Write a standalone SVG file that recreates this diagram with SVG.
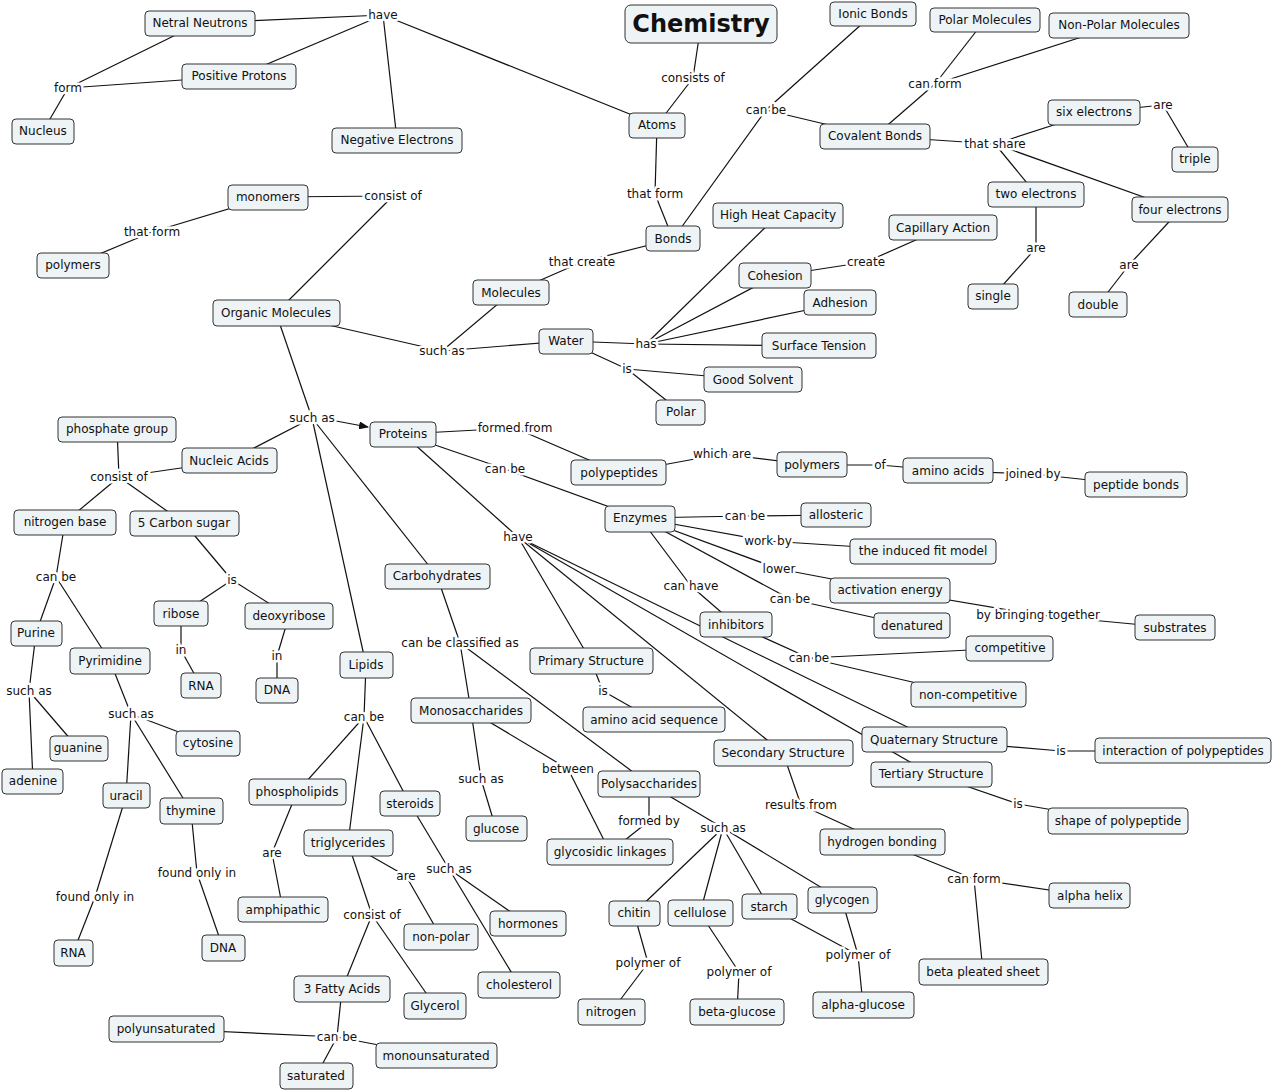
<svg xmlns="http://www.w3.org/2000/svg" width="1274" height="1090" viewBox="0 0 1274 1090">
<style>
.n rect{fill:#eef3f5;stroke:#333;stroke-width:1;}
text{font-family:"DejaVu Sans",Verdana,sans-serif;font-size:12px;fill:#111;text-anchor:middle;dominant-baseline:central;}
.l{stroke:#fff;stroke-width:5;paint-order:stroke;stroke-linejoin:round;}
#c line{stroke:#111;stroke-width:1.2;}
</style>
<defs><marker id="ar" markerWidth="10" markerHeight="8" refX="9" refY="4" orient="auto" markerUnits="userSpaceOnUse"><path d="M0,0L10,4L0,8z" fill="#111"/></marker></defs>
<rect width="1274" height="1090" fill="#fff"/>
<g id="c">
<line x1="200" y1="23" x2="383" y2="15"/><line x1="239" y1="76" x2="383" y2="15"/><line x1="383" y1="15" x2="397" y2="140"/><line x1="383" y1="15" x2="657" y2="125"/>
<line x1="200" y1="23" x2="68" y2="88"/><line x1="239" y1="76" x2="68" y2="88"/><line x1="68" y1="88" x2="43" y2="131"/>
<line x1="701" y1="24" x2="693" y2="78"/><line x1="693" y1="78" x2="657" y2="125"/>
<line x1="657" y1="125" x2="655" y2="194"/><line x1="655" y1="194" x2="673" y2="239"/>
<line x1="673" y1="239" x2="766" y2="110"/><line x1="766" y1="110" x2="873" y2="14"/><line x1="766" y1="110" x2="875" y2="136"/>
<line x1="875" y1="136" x2="935" y2="84"/><line x1="935" y1="84" x2="985" y2="20"/><line x1="935" y1="84" x2="1119" y2="25"/>
<line x1="875" y1="136" x2="995" y2="144"/><line x1="995" y1="144" x2="1094" y2="112"/><line x1="995" y1="144" x2="1036" y2="194"/><line x1="995" y1="144" x2="1180" y2="210"/>
<line x1="1094" y1="112" x2="1163" y2="105"/><line x1="1163" y1="105" x2="1195" y2="159"/>
<line x1="1036" y1="194" x2="1036" y2="248"/><line x1="1036" y1="248" x2="993" y2="296"/>
<line x1="1180" y1="210" x2="1129" y2="265"/><line x1="1129" y1="265" x2="1098" y2="305"/>
<line x1="673" y1="239" x2="582" y2="262"/><line x1="582" y1="262" x2="511" y2="293"/>
<line x1="511" y1="293" x2="442" y2="351"/><line x1="276" y1="313" x2="442" y2="351"/><line x1="442" y1="351" x2="566" y2="341"/>
<line x1="276" y1="313" x2="393" y2="196"/><line x1="393" y1="196" x2="268" y2="197"/><line x1="268" y1="197" x2="152" y2="232"/><line x1="152" y1="232" x2="73" y2="265"/>
<line x1="566" y1="341" x2="646" y2="344"/><line x1="646" y1="344" x2="778" y2="215"/><line x1="646" y1="344" x2="775" y2="276"/><line x1="646" y1="344" x2="840" y2="303"/><line x1="646" y1="344" x2="819" y2="346"/>
<line x1="775" y1="276" x2="866" y2="262"/><line x1="866" y1="262" x2="943" y2="228"/>
<line x1="566" y1="341" x2="627" y2="369"/><line x1="627" y1="369" x2="753" y2="380"/><line x1="627" y1="369" x2="681" y2="412"/>
<line x1="276" y1="313" x2="312" y2="418"/><line x1="336" y1="421" x2="368" y2="427" marker-end="url(#ar)"/><line x1="312" y1="418" x2="229" y2="461"/><line x1="312" y1="418" x2="437" y2="576"/><line x1="312" y1="418" x2="366" y2="665"/>
<line x1="403" y1="434" x2="515" y2="428"/><line x1="515" y1="428" x2="619" y2="473"/><line x1="619" y1="473" x2="722" y2="454"/><line x1="722" y1="454" x2="812" y2="465"/><line x1="812" y1="465" x2="880" y2="465"/><line x1="880" y1="465" x2="948" y2="471"/><line x1="948" y1="471" x2="1033" y2="474"/><line x1="1033" y1="474" x2="1136" y2="485"/>
<line x1="403" y1="434" x2="505" y2="469"/><line x1="505" y1="469" x2="640" y2="518"/>
<line x1="403" y1="434" x2="518" y2="537"/><line x1="518" y1="537" x2="591" y2="661"/><line x1="518" y1="537" x2="783" y2="753"/><line x1="518" y1="537" x2="931" y2="774"/><line x1="518" y1="537" x2="934" y2="740"/>
<line x1="640" y1="518" x2="745" y2="516"/><line x1="745" y1="516" x2="836" y2="515"/>
<line x1="640" y1="518" x2="768" y2="541"/><line x1="768" y1="541" x2="923" y2="551"/>
<line x1="640" y1="518" x2="779" y2="569"/><line x1="779" y1="569" x2="890" y2="590"/>
<line x1="640" y1="518" x2="790" y2="599"/><line x1="790" y1="599" x2="912" y2="626"/>
<line x1="640" y1="518" x2="691" y2="586"/><line x1="691" y1="586" x2="736" y2="625"/>
<line x1="890" y1="590" x2="1038" y2="615"/><line x1="1038" y1="615" x2="1175" y2="628"/>
<line x1="736" y1="625" x2="809" y2="658"/><line x1="809" y1="658" x2="1010" y2="648"/><line x1="809" y1="658" x2="968" y2="695"/>
<line x1="229" y1="461" x2="119" y2="477"/><line x1="119" y1="477" x2="117" y2="429"/><line x1="119" y1="477" x2="65" y2="522"/><line x1="119" y1="477" x2="184" y2="523"/>
<line x1="65" y1="522" x2="56" y2="577"/><line x1="56" y1="577" x2="36" y2="633"/><line x1="56" y1="577" x2="110" y2="661"/>
<line x1="184" y1="523" x2="232" y2="580"/><line x1="232" y1="580" x2="181" y2="614"/><line x1="232" y1="580" x2="289" y2="616"/>
<line x1="181" y1="614" x2="181" y2="650"/><line x1="181" y1="650" x2="201" y2="686"/><line x1="289" y1="616" x2="277" y2="656"/><line x1="277" y1="656" x2="277" y2="690"/>
<line x1="36" y1="633" x2="29" y2="691"/><line x1="29" y1="691" x2="78" y2="748"/><line x1="29" y1="691" x2="33" y2="781"/>
<line x1="110" y1="661" x2="131" y2="714"/><line x1="131" y1="714" x2="208" y2="743"/><line x1="131" y1="714" x2="126" y2="796"/><line x1="131" y1="714" x2="191" y2="811"/>
<line x1="126" y1="796" x2="95" y2="897"/><line x1="95" y1="897" x2="73" y2="953"/><line x1="191" y1="811" x2="197" y2="873"/><line x1="197" y1="873" x2="223" y2="948"/>
<line x1="591" y1="661" x2="603" y2="691"/><line x1="603" y1="691" x2="654" y2="720"/>
<line x1="934" y1="740" x2="1061" y2="751"/><line x1="1061" y1="751" x2="1183" y2="751"/>
<line x1="931" y1="774" x2="1018" y2="804"/><line x1="1018" y1="804" x2="1118" y2="821"/>
<line x1="783" y1="753" x2="801" y2="805"/><line x1="801" y1="805" x2="882" y2="842"/><line x1="882" y1="842" x2="974" y2="879"/><line x1="974" y1="879" x2="1090" y2="896"/><line x1="974" y1="879" x2="983" y2="972"/>
<line x1="437" y1="576" x2="460" y2="643"/><line x1="460" y1="643" x2="471" y2="711"/><line x1="460" y1="643" x2="649" y2="784"/>
<line x1="471" y1="711" x2="481" y2="779"/><line x1="481" y1="779" x2="496" y2="829"/><line x1="471" y1="711" x2="568" y2="769"/><line x1="568" y1="769" x2="610" y2="852"/>
<line x1="649" y1="784" x2="649" y2="821"/><line x1="649" y1="821" x2="610" y2="852"/>
<line x1="649" y1="784" x2="723" y2="828"/><line x1="723" y1="828" x2="634" y2="913"/><line x1="723" y1="828" x2="700" y2="913"/><line x1="723" y1="828" x2="769" y2="907"/><line x1="723" y1="828" x2="842" y2="900"/>
<line x1="634" y1="913" x2="648" y2="963"/><line x1="648" y1="963" x2="611" y2="1012"/><line x1="700" y1="913" x2="739" y2="972"/><line x1="739" y1="972" x2="737" y2="1012"/>
<line x1="769" y1="907" x2="858" y2="955"/><line x1="842" y1="900" x2="858" y2="955"/><line x1="858" y1="955" x2="863" y2="1005"/>
<line x1="366" y1="665" x2="364" y2="717"/><line x1="364" y1="717" x2="297" y2="792"/><line x1="364" y1="717" x2="348" y2="843"/><line x1="364" y1="717" x2="410" y2="804"/>
<line x1="297" y1="792" x2="272" y2="853"/><line x1="272" y1="853" x2="283" y2="910"/>
<line x1="348" y1="843" x2="406" y2="876"/><line x1="406" y1="876" x2="441" y2="937"/>
<line x1="348" y1="843" x2="372" y2="915"/><line x1="372" y1="915" x2="342" y2="989"/><line x1="372" y1="915" x2="435" y2="1006"/>
<line x1="410" y1="804" x2="449" y2="869"/><line x1="449" y1="869" x2="528" y2="924"/><line x1="449" y1="869" x2="519" y2="985"/>
<line x1="342" y1="989" x2="337" y2="1037"/><line x1="337" y1="1037" x2="166" y2="1029"/><line x1="337" y1="1037" x2="436" y2="1056"/><line x1="337" y1="1037" x2="316" y2="1076"/>
</g>
<g id="labels">
<text class="l" x="383" y="15">have</text><text class="l" x="68" y="88">form</text><text class="l" x="693" y="78">consists of</text><text class="l" x="766" y="110">can be</text><text class="l" x="935" y="84">can form</text><text class="l" x="995" y="144">that share</text><text class="l" x="1163" y="105">are</text><text class="l" x="1036" y="248">are</text><text class="l" x="1129" y="265">are</text><text class="l" x="393" y="196">consist of</text><text class="l" x="152" y="232">that form</text><text class="l" x="655" y="194">that form</text><text class="l" x="582" y="262">that create</text><text class="l" x="866" y="262">create</text><text class="l" x="646" y="344">has</text><text class="l" x="442" y="351">such as</text><text class="l" x="627" y="369">is</text><text class="l" x="312" y="418">such as</text><text class="l" x="515" y="428">formed from</text><text class="l" x="505" y="469">can be</text><text class="l" x="722" y="454">which are</text><text class="l" x="880" y="465">of</text><text class="l" x="1033" y="474">joined by</text><text class="l" x="119" y="477">consist of</text><text class="l" x="518" y="537">have</text><text class="l" x="745" y="516">can be</text><text class="l" x="768" y="541">work by</text><text class="l" x="779" y="569">lower</text><text class="l" x="790" y="599">can be</text><text class="l" x="691" y="586">can have</text><text class="l" x="1038" y="615">by bringing together</text><text class="l" x="56" y="577">can be</text><text class="l" x="232" y="580">is</text><text class="l" x="809" y="658">can be</text><text class="l" x="181" y="650">in</text><text class="l" x="277" y="656">in</text><text class="l" x="460" y="643">can be classified as</text><text class="l" x="603" y="691">is</text><text class="l" x="29" y="691">such as</text><text class="l" x="131" y="714">such as</text><text class="l" x="481" y="779">such as</text><text class="l" x="568" y="769">between</text><text class="l" x="801" y="805">results from</text><text class="l" x="1061" y="751">is</text><text class="l" x="1018" y="804">is</text><text class="l" x="649" y="821">formed by</text><text class="l" x="723" y="828">such as</text><text class="l" x="364" y="717">can be</text><text class="l" x="272" y="853">are</text><text class="l" x="406" y="876">are</text><text class="l" x="449" y="869">such as</text><text class="l" x="95" y="897">found only in</text><text class="l" x="197" y="873">found only in</text><text class="l" x="974" y="879">can form</text><text class="l" x="372" y="915">consist of</text><text class="l" x="648" y="963">polymer of</text><text class="l" x="739" y="972">polymer of</text><text class="l" x="858" y="955">polymer of</text><text class="l" x="337" y="1037">can be</text>
</g>
<g id="n-chem" class="n"><rect x="625" y="5" width="152" height="38" rx="6"/><text x="701" y="24" style="font-size:24px;font-weight:bold">Chemistry</text></g>
<g id="n1" class="n"><rect x="145" y="11" width="110" height="25" rx="4"/><text x="200" y="23">Netral Neutrons</text></g>
<g id="n2" class="n"><rect x="182" y="64" width="114" height="25" rx="4"/><text x="239" y="76">Positive Protons</text></g>
<g id="n3" class="n"><rect x="12" y="119" width="62" height="25" rx="4"/><text x="43" y="131">Nucleus</text></g>
<g id="n4" class="n"><rect x="332" y="128" width="130" height="25" rx="4"/><text x="397" y="140">Negative Electrons</text></g>
<g id="n5" class="n"><rect x="629" y="113" width="56" height="25" rx="4"/><text x="657" y="125">Atoms</text></g>
<g id="n6" class="n"><rect x="830" y="2" width="86" height="24" rx="4"/><text x="873" y="14">Ionic Bonds</text></g>
<g id="n7" class="n"><rect x="930" y="8" width="110" height="24" rx="4"/><text x="985" y="20">Polar Molecules</text></g>
<g id="n8" class="n"><rect x="1049" y="13" width="140" height="25" rx="4"/><text x="1119" y="25">Non-Polar Molecules</text></g>
<g id="n9" class="n"><rect x="820" y="124" width="110" height="25" rx="4"/><text x="875" y="136">Covalent Bonds</text></g>
<g id="n10" class="n"><rect x="1048" y="100" width="92" height="25" rx="4"/><text x="1094" y="112">six electrons</text></g>
<g id="n11" class="n"><rect x="1172" y="147" width="46" height="25" rx="4"/><text x="1195" y="159">triple</text></g>
<g id="n12" class="n"><rect x="988" y="182" width="96" height="25" rx="4"/><text x="1036" y="194">two electrons</text></g>
<g id="n13" class="n"><rect x="1132" y="197" width="96" height="25" rx="4"/><text x="1180" y="210">four electrons</text></g>
<g id="n14" class="n"><rect x="968" y="284" width="50" height="25" rx="4"/><text x="993" y="296">single</text></g>
<g id="n15" class="n"><rect x="1069" y="292" width="58" height="25" rx="4"/><text x="1098" y="305">double</text></g>
<g id="n16" class="n"><rect x="228" y="185" width="80" height="25" rx="4"/><text x="268" y="197">monomers</text></g>
<g id="n17" class="n"><rect x="37" y="253" width="72" height="25" rx="4"/><text x="73" y="265">polymers</text></g>
<g id="n18" class="n"><rect x="646" y="226" width="54" height="25" rx="4"/><text x="673" y="239">Bonds</text></g>
<g id="n19" class="n"><rect x="713" y="203" width="130" height="25" rx="4"/><text x="778" y="215">High Heat Capacity</text></g>
<g id="n20" class="n"><rect x="889" y="215" width="108" height="25" rx="4"/><text x="943" y="228">Capillary Action</text></g>
<g id="n21" class="n"><rect x="739" y="263" width="72" height="25" rx="4"/><text x="775" y="276">Cohesion</text></g>
<g id="n22" class="n"><rect x="804" y="290" width="72" height="25" rx="4"/><text x="840" y="303">Adhesion</text></g>
<g id="n23" class="n"><rect x="473" y="280" width="76" height="25" rx="4"/><text x="511" y="293">Molecules</text></g>
<g id="n24" class="n"><rect x="213" y="300" width="127" height="26" rx="4"/><text x="276" y="313">Organic Molecules</text></g>
<g id="n25" class="n"><rect x="539" y="329" width="54" height="25" rx="4"/><text x="566" y="341">Water</text></g>
<g id="n26" class="n"><rect x="762" y="333" width="114" height="25" rx="4"/><text x="819" y="346">Surface Tension</text></g>
<g id="n27" class="n"><rect x="704" y="367" width="98" height="25" rx="4"/><text x="753" y="380">Good Solvent</text></g>
<g id="n28" class="n"><rect x="656" y="400" width="49" height="25" rx="4"/><text x="681" y="412">Polar</text></g>
<g id="n29" class="n"><rect x="58" y="417" width="118" height="25" rx="4"/><text x="117" y="429">phosphate group</text></g>
<g id="n30" class="n"><rect x="370" y="422" width="66" height="25" rx="4"/><text x="403" y="434">Proteins</text></g>
<g id="n31" class="n"><rect x="182" y="448" width="95" height="25" rx="4"/><text x="229" y="461">Nucleic Acids</text></g>
<g id="n32" class="n"><rect x="571" y="460" width="95" height="25" rx="4"/><text x="619" y="473">polypeptides</text></g>
<g id="n33" class="n"><rect x="777" y="452" width="70" height="25" rx="4"/><text x="812" y="465">polymers</text></g>
<g id="n34" class="n"><rect x="903" y="458" width="90" height="25" rx="4"/><text x="948" y="471">amino acids</text></g>
<g id="n35" class="n"><rect x="1085" y="472" width="102" height="25" rx="4"/><text x="1136" y="485">peptide bonds</text></g>
<g id="n36" class="n"><rect x="14" y="510" width="102" height="25" rx="4"/><text x="65" y="522">nitrogen base</text></g>
<g id="n37" class="n"><rect x="130" y="511" width="109" height="25" rx="4"/><text x="184" y="523">5 Carbon sugar</text></g>
<g id="n38" class="n"><rect x="605" y="506" width="70" height="26" rx="4"/><text x="640" y="518">Enzymes</text></g>
<g id="n39" class="n"><rect x="801" y="503" width="70" height="24" rx="4"/><text x="836" y="515">allosteric</text></g>
<g id="n40" class="n"><rect x="850" y="539" width="146" height="25" rx="4"/><text x="923" y="551">the induced fit model</text></g>
<g id="n41" class="n"><rect x="385" y="564" width="105" height="25" rx="4"/><text x="437" y="576">Carbohydrates</text></g>
<g id="n42" class="n"><rect x="830" y="578" width="120" height="25" rx="4"/><text x="890" y="590">activation energy</text></g>
<g id="n43" class="n"><rect x="1135" y="615" width="80" height="25" rx="4"/><text x="1175" y="628">substrates</text></g>
<g id="n44" class="n"><rect x="154" y="601" width="54" height="25" rx="4"/><text x="181" y="614">ribose</text></g>
<g id="n45" class="n"><rect x="245" y="603" width="88" height="26" rx="4"/><text x="289" y="616">deoxyribose</text></g>
<g id="n46" class="n"><rect x="874" y="613" width="76" height="25" rx="4"/><text x="912" y="626">denatured</text></g>
<g id="n47" class="n"><rect x="700" y="612" width="72" height="25" rx="4"/><text x="736" y="625">inhibitors</text></g>
<g id="n48" class="n"><rect x="11" y="621" width="51" height="25" rx="4"/><text x="36" y="633">Purine</text></g>
<g id="n49" class="n"><rect x="966" y="636" width="87" height="25" rx="4"/><text x="1010" y="648">competitive</text></g>
<g id="n50" class="n"><rect x="70" y="648" width="80" height="26" rx="4"/><text x="110" y="661">Pyrimidine</text></g>
<g id="n51" class="n"><rect x="530" y="648" width="123" height="26" rx="4"/><text x="591" y="661">Primary Structure</text></g>
<g id="n52" class="n"><rect x="340" y="652" width="53" height="26" rx="4"/><text x="366" y="665">Lipids</text></g>
<g id="n53" class="n"><rect x="181" y="673" width="40" height="25" rx="4"/><text x="201" y="686">RNA</text></g>
<g id="n54" class="n"><rect x="256" y="678" width="42" height="25" rx="4"/><text x="277" y="690">DNA</text></g>
<g id="n55" class="n"><rect x="911" y="682" width="115" height="25" rx="4"/><text x="968" y="695">non-competitive</text></g>
<g id="n56" class="n"><rect x="411" y="698" width="120" height="25" rx="4"/><text x="471" y="711">Monosaccharides</text></g>
<g id="n57" class="n"><rect x="583" y="707" width="142" height="25" rx="4"/><text x="654" y="720">amino acid sequence</text></g>
<g id="n58" class="n"><rect x="176" y="731" width="64" height="25" rx="4"/><text x="208" y="743">cytosine</text></g>
<g id="n59" class="n"><rect x="50" y="736" width="58" height="25" rx="4"/><text x="78" y="748">guanine</text></g>
<g id="n60" class="n"><rect x="862" y="727" width="145" height="25" rx="4"/><text x="934" y="740">Quaternary Structure</text></g>
<g id="n61" class="n"><rect x="1095" y="738" width="176" height="25" rx="4"/><text x="1183" y="751">interaction of polypeptides</text></g>
<g id="n62" class="n"><rect x="714" y="740" width="139" height="26" rx="4"/><text x="783" y="753">Secondary Structure</text></g>
<g id="n63" class="n"><rect x="871" y="762" width="121" height="25" rx="4"/><text x="931" y="774">Tertiary Structure</text></g>
<g id="n64" class="n"><rect x="2" y="769" width="61" height="25" rx="4"/><text x="33" y="781">adenine</text></g>
<g id="n65" class="n"><rect x="598" y="771" width="102" height="26" rx="4"/><text x="649" y="784">Polysaccharides</text></g>
<g id="n66" class="n"><rect x="249" y="779" width="97" height="26" rx="4"/><text x="297" y="792">phospholipids</text></g>
<g id="n67" class="n"><rect x="103" y="783" width="47" height="25" rx="4"/><text x="126" y="796">uracil</text></g>
<g id="n68" class="n"><rect x="380" y="791" width="60" height="25" rx="4"/><text x="410" y="804">steroids</text></g>
<g id="n69" class="n"><rect x="160" y="798" width="63" height="26" rx="4"/><text x="191" y="811">thymine</text></g>
<g id="n70" class="n"><rect x="1048" y="808" width="140" height="26" rx="4"/><text x="1118" y="821">shape of polypeptide</text></g>
<g id="n71" class="n"><rect x="466" y="816" width="61" height="25" rx="4"/><text x="496" y="829">glucose</text></g>
<g id="n72" class="n"><rect x="304" y="830" width="89" height="26" rx="4"/><text x="348" y="843">triglycerides</text></g>
<g id="n73" class="n"><rect x="820" y="829" width="125" height="26" rx="4"/><text x="882" y="842">hydrogen bonding</text></g>
<g id="n74" class="n"><rect x="547" y="839" width="126" height="26" rx="4"/><text x="610" y="852">glycosidic linkages</text></g>
<g id="n75" class="n"><rect x="1049" y="883" width="81" height="25" rx="4"/><text x="1090" y="896">alpha helix</text></g>
<g id="n76" class="n"><rect x="808" y="887" width="69" height="26" rx="4"/><text x="842" y="900">glycogen</text></g>
<g id="n77" class="n"><rect x="742" y="894" width="55" height="25" rx="4"/><text x="769" y="907">starch</text></g>
<g id="n78" class="n"><rect x="609" y="901" width="51" height="25" rx="4"/><text x="634" y="913">chitin</text></g>
<g id="n79" class="n"><rect x="668" y="900" width="65" height="26" rx="4"/><text x="700" y="913">cellulose</text></g>
<g id="n80" class="n"><rect x="238" y="897" width="90" height="25" rx="4"/><text x="283" y="910">amphipathic</text></g>
<g id="n81" class="n"><rect x="490" y="911" width="76" height="25" rx="4"/><text x="528" y="924">hormones</text></g>
<g id="n82" class="n"><rect x="404" y="924" width="74" height="26" rx="4"/><text x="441" y="937">non-polar</text></g>
<g id="n83" class="n"><rect x="54" y="940" width="39" height="26" rx="4"/><text x="73" y="953">RNA</text></g>
<g id="n84" class="n"><rect x="202" y="935" width="43" height="26" rx="4"/><text x="223" y="948">DNA</text></g>
<g id="n85" class="n"><rect x="919" y="959" width="129" height="26" rx="4"/><text x="983" y="972">beta pleated sheet</text></g>
<g id="n86" class="n"><rect x="478" y="972" width="82" height="26" rx="4"/><text x="519" y="985">cholesterol</text></g>
<g id="n87" class="n"><rect x="294" y="976" width="96" height="26" rx="4"/><text x="342" y="989">3 Fatty Acids</text></g>
<g id="n88" class="n"><rect x="404" y="993" width="62" height="26" rx="4"/><text x="435" y="1006">Glycerol</text></g>
<g id="n89" class="n"><rect x="813" y="992" width="101" height="26" rx="4"/><text x="863" y="1005">alpha-glucose</text></g>
<g id="n90" class="n"><rect x="578" y="999" width="67" height="26" rx="4"/><text x="611" y="1012">nitrogen</text></g>
<g id="n91" class="n"><rect x="690" y="999" width="94" height="26" rx="4"/><text x="737" y="1012">beta-glucose</text></g>
<g id="n92" class="n"><rect x="109" y="1016" width="115" height="26" rx="4"/><text x="166" y="1029">polyunsaturated</text></g>
<g id="n93" class="n"><rect x="376" y="1043" width="121" height="25" rx="4"/><text x="436" y="1056">monounsaturated</text></g>
<g id="n94" class="n"><rect x="280" y="1063" width="73" height="26" rx="4"/><text x="316" y="1076">saturated</text></g>
</svg>
